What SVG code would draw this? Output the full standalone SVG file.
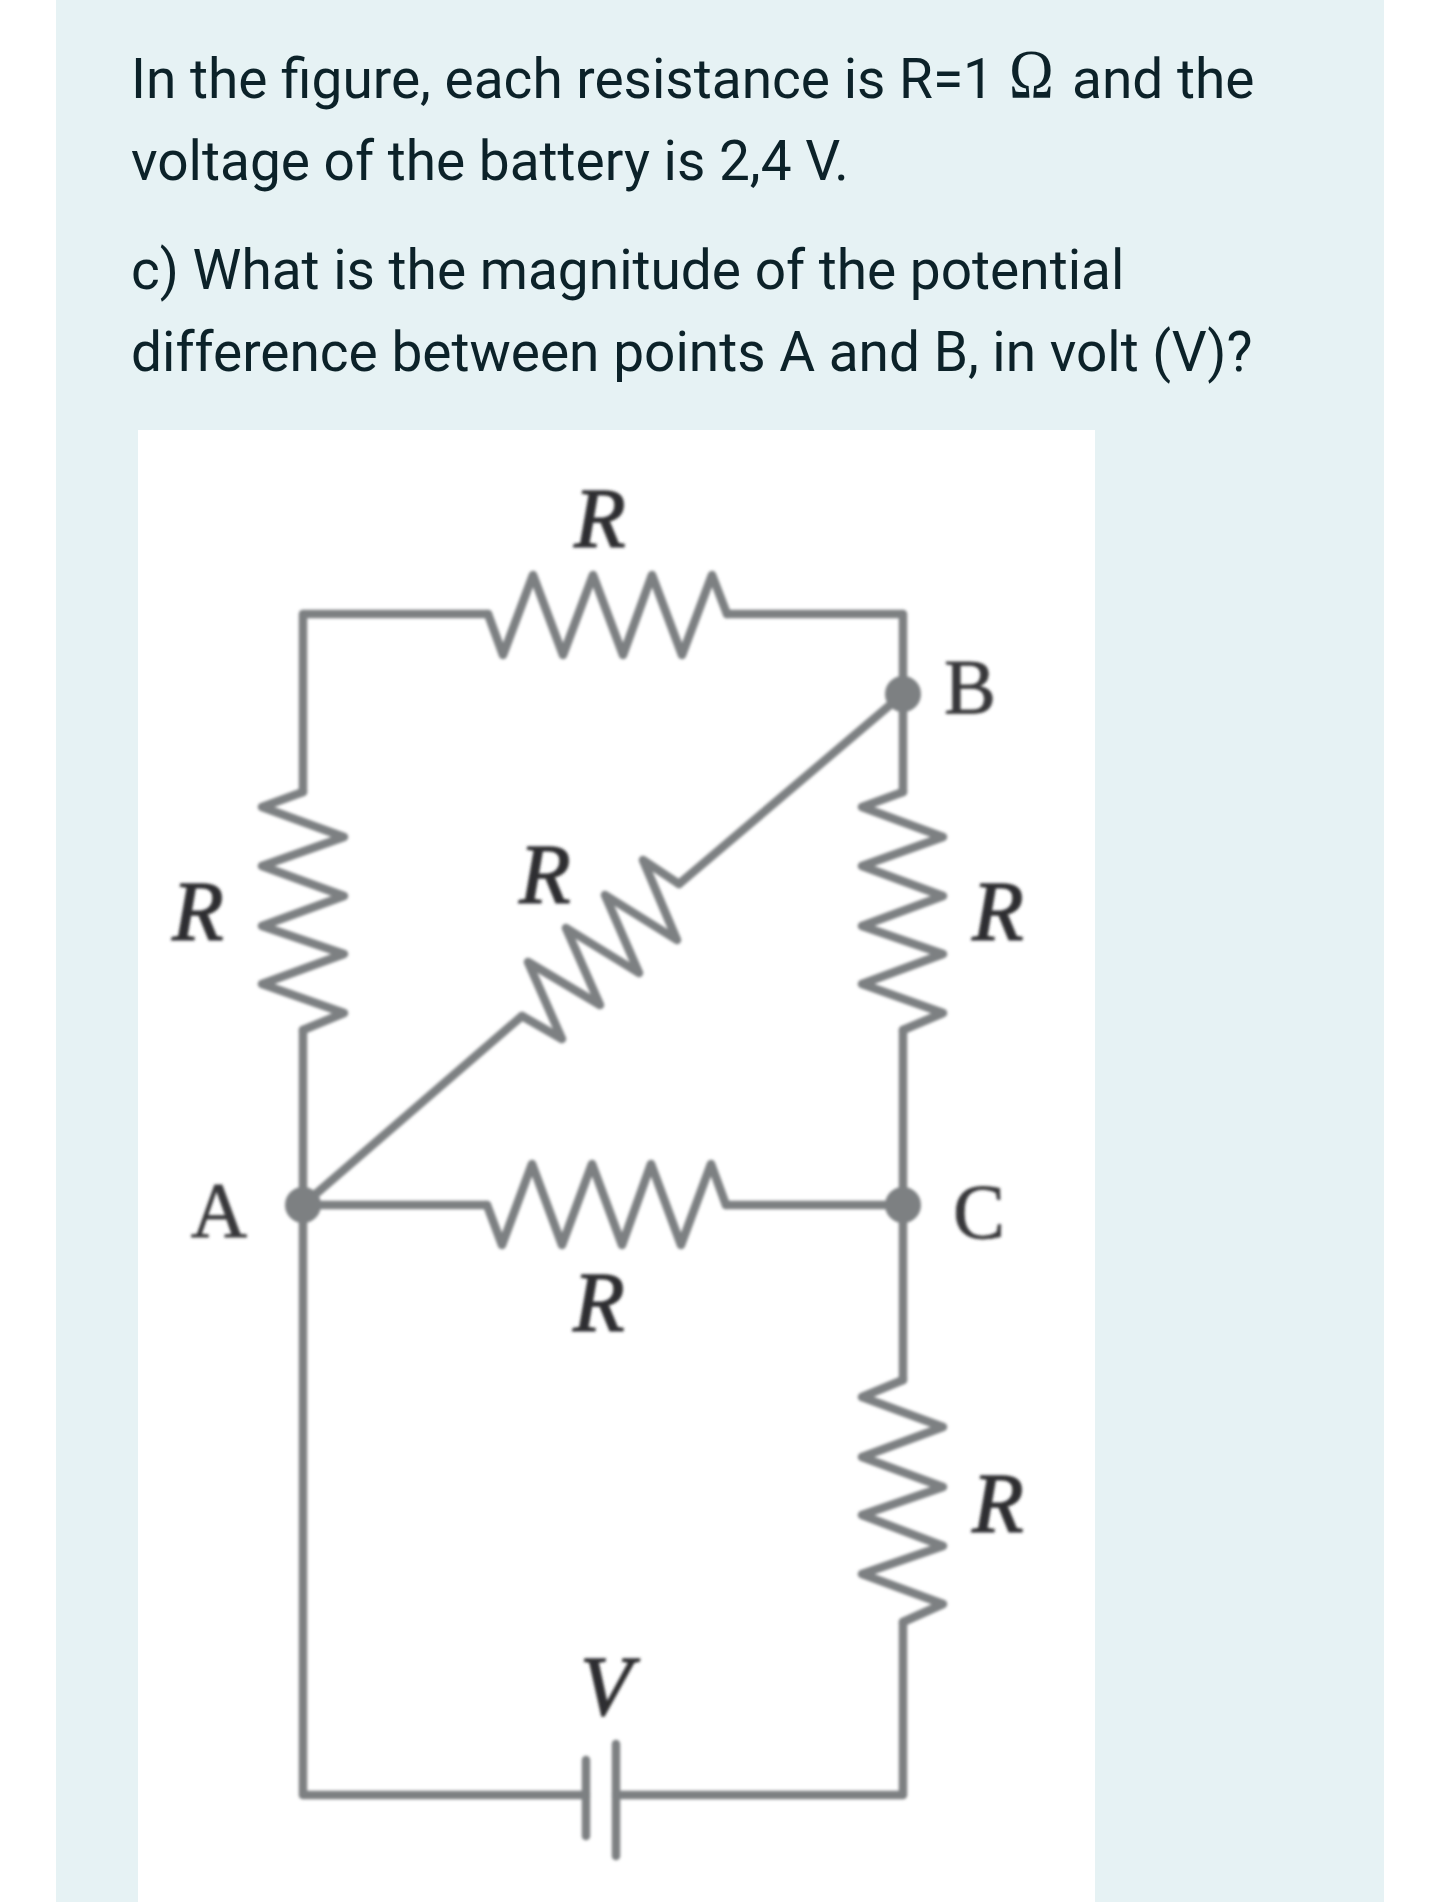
<svg xmlns="http://www.w3.org/2000/svg" width="1440" height="1902" viewBox="0 0 1440 1902">
<style>
.q{font-family:"Roboto","Liberation Sans",sans-serif;font-size:55px;fill:#0c2229}
.o{font-family:"Liberation Serif",serif;font-size:70px;fill:#0c2229}
.w{fill:none;stroke:#7d8082;stroke-width:8.5;stroke-linejoin:round;stroke-linecap:round}
.i{font-family:"Liberation Serif",serif;font-style:italic;font-size:84px;fill:#2e2e30;stroke:#2e2e30;stroke-width:1.5;text-anchor:middle}
.n{font-family:"Liberation Serif",serif;font-size:78px;fill:#38383a;stroke:#38383a;stroke-width:.8;text-anchor:middle}
.d{fill:#7d8082}
</style>
<defs><filter id="soft" x="-5%" y="-5%" width="110%" height="110%"><feGaussianBlur stdDeviation="1.8"/></filter></defs>
<rect width="1440" height="1902" fill="#fff"/>
<rect x="56" y="0" width="1328" height="1902" fill="#e6f2f4"/>
<rect x="138" y="430" width="957" height="1472" fill="#fff"/>
<g id="question">
<text class="q" x="131" y="98">In the figure, each resistance is R=1</text>
<text class="o" transform="translate(1009 98) scale(.86 1)">Ω</text>
<text class="q" x="1072" y="98">and the</text>
<text class="q" x="131" y="180">voltage of the battery is 2,4 V.</text>
<text class="q" x="131" y="289">c) What is the magnitude of the potential</text>
<text class="q" x="131" y="371">difference between points A and B, in volt (V)?</text>
</g>
<g filter="url(#soft)">
<g id="connectors">
<path class="w" d="M488 614H303V792"/>
<path class="w" d="M727 614H903V792"/>
<path class="w" d="M303 1030V1795H586"/>
<path class="w" d="M903 1030V1380"/>
<path class="w" d="M903 1622V1795H616"/>
<path class="w" d="M303 1205H487"/>
<path class="w" d="M726 1205H903"/>
<path class="w" d="M303 1205L522 1016"/>
<path class="w" d="M679 884L903 694"/>
</g>
<g id="resistor-top"><path class="w" d="M488 614L503 655L533 575L563 655L593 575L623 655L652 575L682 655L712 575L727 614"/><text class="i" x="600" y="547">R</text></g>
<g id="resistor-left"><path class="w" d="M303 792L262 807L344 837L262 866L344 896L262 926L344 954L262 984L344 1013L303 1030"/><text class="i" x="198" y="940">R</text></g>
<g id="resistor-right"><path class="w" d="M903 792L862 807L943 837L862 866L943 896L862 926L943 954L862 984L943 1013L903 1030"/><text class="i" x="998" y="940">R</text></g>
<g id="resistor-diagonal"><path class="w" d="M522 1016L562 1039L528 962L600 1005L566 928L639 973L605 895L677 940L643 860L679 884"/><text class="i" x="545" y="903">R</text></g>
<g id="resistor-middle"><path class="w" d="M487 1205L502 1245L532 1164L562 1245L592 1164L622 1245L651 1164L681 1245L711 1164L726 1205"/><text class="i" x="599" y="1331">R</text></g>
<g id="resistor-bottom"><path class="w" d="M903 1380L862 1397L943 1427L862 1457L943 1487L862 1515L943 1546L862 1574L943 1604L903 1622"/><text class="i" x="998" y="1532">R</text></g>
<g id="battery"><path class="w" d="M586 1760V1836M616 1744V1856"/><text class="i" x="606" y="1715">V</text></g>
<g id="node-a"><circle class="d" cx="303" cy="1205" r="18"/><text class="n" x="219" y="1236">A</text></g>
<g id="node-b"><circle class="d" cx="903" cy="694" r="18"/><text class="n" x="970" y="713">B</text></g>
<g id="node-c"><circle class="d" cx="903" cy="1205" r="18"/><text class="n" x="979" y="1238">C</text></g>
</g>
</svg>
